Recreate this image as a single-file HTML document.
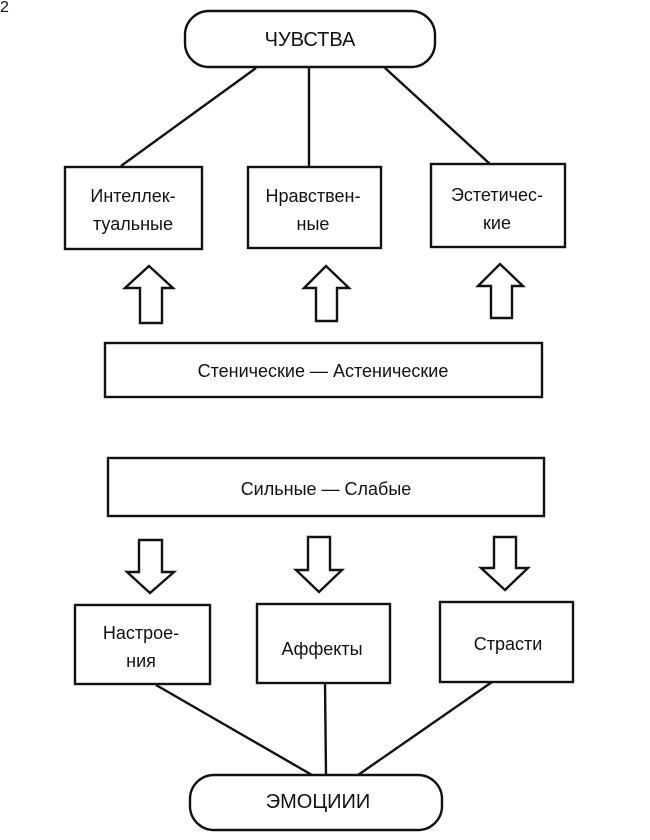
<!DOCTYPE html>
<html><head><meta charset="utf-8"><style>
html,body{margin:0;padding:0;background:#fff;width:650px;height:840px;overflow:hidden}
svg text{font-family:"Liberation Sans",sans-serif;fill:#111}
</style></head><body>
<svg width="650" height="840" viewBox="0 0 650 840" xmlns="http://www.w3.org/2000/svg">
<g fill="none" stroke="#111" stroke-width="2.4">
<rect x="185" y="11" width="250" height="56" rx="24"/>
<line x1="256" y1="68" x2="121" y2="166"/>
<line x1="309" y1="68" x2="309" y2="166"/>
<line x1="385" y1="68" x2="490" y2="164"/>
<rect x="65" y="167" width="137" height="82"/>
<rect x="248" y="167" width="133" height="81"/>
<rect x="431" y="164" width="134" height="83"/>
<polygon points="149,266 173,288 162,288 162,323 140,323 140,288 125,288"/>
<polygon points="326,266 349,288 337,288 337,321 316,321 316,288 304,288"/>
<polygon points="500,264 523,286 512,286 512,318 491,318 491,286 478,286"/>
<rect x="105" y="343" width="437" height="54"/>
<rect x="108" y="458" width="436" height="58"/>
<polygon points="139,540 162,540 162,572 174,572 150,593 127,572 139,572"/>
<polygon points="308,537 330,537 330,570 342,570 319,592 296,570 308,570"/>
<polygon points="494,537 516,537 516,568 528,568 505,590 481,568 494,568"/>
<rect x="75" y="605" width="135" height="79"/>
<rect x="257" y="604" width="133" height="79"/>
<rect x="440" y="602" width="133" height="80"/>
<line x1="156" y1="685" x2="312" y2="775"/>
<line x1="325" y1="683" x2="326" y2="775"/>
<line x1="492" y1="682" x2="358" y2="775"/>
<rect x="190" y="775" width="252" height="55" rx="24"/>
</g>
<g font-size="18" text-anchor="middle">
<text x="310" y="46" font-size="20">ЧУВСТВА</text>
<text x="133" y="202">Интеллек-</text>
<text x="133" y="230">туальные</text>
<text x="313" y="202">Нравствен-</text>
<text x="313" y="230">ные</text>
<text x="497" y="201">Эстетичес-</text>
<text x="497" y="229">кие</text>
<text x="323" y="377">Стенические — Астенические</text>
<text x="326" y="495">Сильные — Слабые</text>
<text x="141" y="639">Настрое-</text>
<text x="141" y="667">ния</text>
<text x="322" y="655">Аффекты</text>
<text x="508" y="650">Страсти</text>
<text x="318" y="808" font-size="20">ЭМОЦИИИ</text>
</g>
<text x="0" y="12" font-size="16">2</text>
</svg>
</body></html>
